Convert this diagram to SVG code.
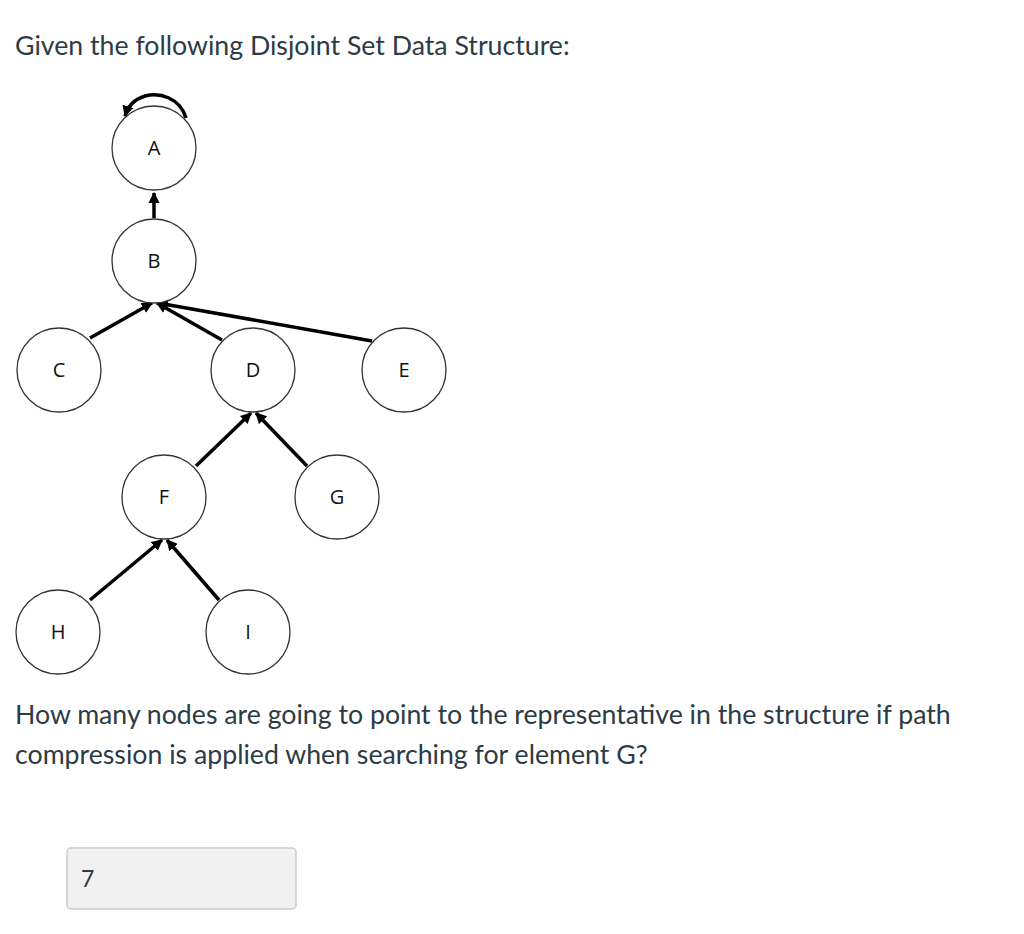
<svg xmlns="http://www.w3.org/2000/svg" width="1024" height="934" viewBox="0 0 1024 934">
<style>
.n{fill:#fff;stroke:#333;stroke-width:1.3}
.l{font-family:"Open Sans","Liberation Sans",sans-serif;font-size:20px;text-anchor:middle;fill:#111}
.e{stroke:#000;stroke-width:3.5;fill:none;marker-end:url(#ah)}
.t{font-family:Lato,"Liberation Sans",sans-serif;font-size:26.7px;fill:#2d3b45}
</style>
<defs><marker id="ah" viewBox="0 0 10 10" refX="9" refY="5" markerWidth="3.2" markerHeight="3.2" orient="auto"><path d="M0,0L10,5L0,10z" fill="#000"/></marker></defs>
<rect width="1024" height="934" fill="#fff"/>
<text class="t" x="15" y="55">Given the following Disjoint Set Data Structure:</text>
<g id="edges">
<path class="e" d="M186,118 C180,98 160,92 145,96 C135,99 128,106 125,116"/>
<line class="e" x1="154" y1="218" x2="154" y2="193"/>
<line class="e" x1="90" y1="338" x2="152" y2="303"/>
<line class="e" x1="222" y1="340" x2="157" y2="303"/>
<line class="e" x1="372" y1="341" x2="158" y2="303"/>
<line class="e" x1="196" y1="466" x2="251" y2="413"/>
<line class="e" x1="307" y1="466" x2="256" y2="413"/>
<line class="e" x1="90" y1="600" x2="162" y2="540"/>
<line class="e" x1="219" y1="600" x2="167" y2="540"/>
</g>
<g id="A"><circle class="n" cx="154" cy="148" r="42"/><text class="l" x="154" y="155">A</text></g>
<g id="B"><circle class="n" cx="154" cy="261" r="42"/><text class="l" x="154" y="268">B</text></g>
<g id="C"><circle class="n" cx="59" cy="370" r="42"/><text class="l" x="59" y="377">C</text></g>
<g id="D"><circle class="n" cx="253" cy="370" r="42"/><text class="l" x="253" y="377">D</text></g>
<g id="E"><circle class="n" cx="404" cy="370" r="42"/><text class="l" x="404" y="377">E</text></g>
<g id="F"><circle class="n" cx="164" cy="497" r="42"/><text class="l" x="164" y="504">F</text></g>
<g id="G"><circle class="n" cx="337" cy="497" r="42"/><text class="l" x="337" y="504">G</text></g>
<g id="H"><circle class="n" cx="58" cy="632" r="42"/><text class="l" x="58" y="639">H</text></g>
<g id="I"><circle class="n" cx="248" cy="632" r="42"/><text class="l" x="248" y="639">I</text></g>
<text class="t" x="15" y="724">How many nodes are going to point to the representative in the structure if path</text>
<text class="t" x="15" y="764">compression is applied when searching for element G?</text>
<rect x="67" y="848" width="229" height="61" rx="4" fill="#f1f1f1" stroke="#c7cdd1" stroke-width="1.5"/>
<text class="t" x="81" y="887" style="font-size:23px">7</text>
</svg>
